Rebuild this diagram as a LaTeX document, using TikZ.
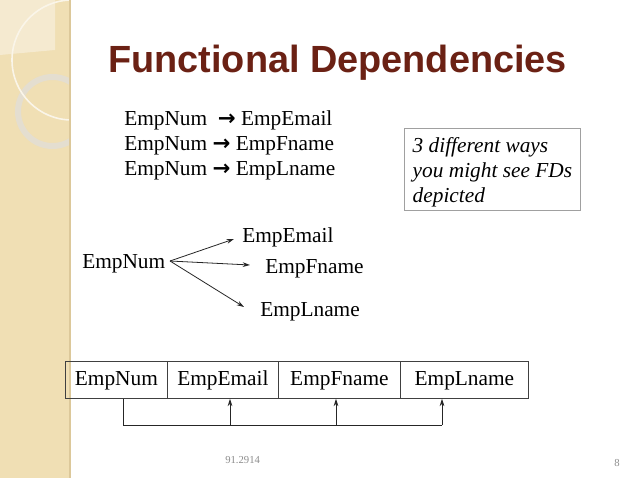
\documentclass[tikz,border=0pt]{standalone}
\usepackage{fontspec}
\setmainfont{Liberation Serif}
\newfontfamily\titlefont{Liberation Sans}
\newfontfamily\arrowfont{DejaVu Sans}
\usetikzlibrary{arrows.meta}
\definecolor{sidebar}{HTML}{F0DFB4}
\definecolor{sidelight}{HTML}{F5EAD0}
\definecolor{sideedge}{HTML}{DCC89A}
\definecolor{ringcol}{HTML}{E4DED0}
\definecolor{titlecol}{HTML}{6B2114}
\definecolor{boxgray}{HTML}{A0A0A0}
\tikzset{
  txt/.style={font=\fontsize{16}{18.75}\selectfont, inner sep=0pt},
  cell/.style={draw=black!75, line width=0.6pt, minimum height=27.75pt, inner sep=0pt,
     text height=12pt, text depth=3pt,
     font=\fontsize{16}{18.75}\selectfont, anchor=north west},
  conn/.style={line width=0.6pt, draw=black!85},
  tip/.style={-{Stealth[length=5.5pt,width=3.5pt]}},
  foot/.style={font=\fontsize{8}{9}\selectfont, text=black!45, inner sep=0pt}
}
\newcommand{\bigarrow}{{\arrowfont\bfseries →}}
\begin{document}
\begin{tikzpicture}[x=0.75pt,y=-0.75pt]
\useasboundingbox (0,0) rectangle (638,478);
% sidebar
\fill[white] (0,0) rectangle (638,478);
\fill[sidebar] (0,0) rectangle (70,478);
\fill[sidelight] (0,0) -- (55,0) -- (55,50) -- (0,55) -- cycle;
\begin{scope}
\clip (0,0) rectangle (70,478);
\draw[ringcol, line width=4.5pt] (52.5,111.5) circle (34.5);
\draw[white!70!sidebar, line width=1.2pt] (72,60) circle (60);
\end{scope}
\draw[sideedge, line width=0.9pt] (70,0) -- (70,478);
% title
\node[anchor=base west, inner sep=0pt, text=titlecol,
      font=\titlefont\bfseries\fontsize{28.4}{32}\selectfont] (title) at (108,72) {Functional Dependencies};
% FD lines
\node[txt, anchor=base west] (fd1) at (124,125) {EmpNum \ \bigarrow\ EmpEmail};
\node[txt, anchor=base west] (fd2) at (124,150) {EmpNum \bigarrow\ EmpFname};
\node[txt, anchor=base west] (fd3) at (124,175) {EmpNum \bigarrow\ EmpLname};
% note box
\node[draw=boxgray, line width=0.6pt, anchor=north west, minimum width=132pt, minimum height=61.5pt,
      inner xsep=4pt, inner ysep=0pt, align=left,
      font=\itshape\fontsize{16}{18.75}\selectfont] (note) at (404,128)
      {\rule{0pt}{15pt}3 different ways\\you might see FDs\\depicted};
% fan diagram
\node[txt, anchor=base west] (num) at (82,268) {EmpNum};
\node[txt, anchor=base west] (email) at (242,242) {EmpEmail};
\node[txt, anchor=base west] (fname) at (265,273) {EmpFname};
\node[txt, anchor=base west] (lname) at (260,316) {EmpLname};
\coordinate (src) at (170,261);
\coordinate (t1) at (234,239);
\coordinate (t2) at (250,265);
\coordinate (t3) at (244,307);
\draw[conn, tip] (src) -- (t1);
\draw[conn, tip] (src) -- (t2);
\draw[conn, tip] (src) -- (t3);
% table
\node[cell, minimum width=76.5pt] (c1) at (65,361) {EmpNum};
\node[cell, minimum width=83.25pt] (c2) at (167,361) {EmpEmail};
\node[cell, minimum width=91.5pt] (c3) at (278,361) {EmpFname};
\node[cell, minimum width=96pt] (c4) at (400,361) {EmpLname};
\coordinate (b1) at (123,425);
\coordinate (b2) at (230,425);
\coordinate (b3) at (336,425);
\coordinate (b4) at (442,425);
\draw[conn] (c1.south -| b1) -- (b1) -- (b4);
\draw[conn, tip] (b2) -- (c2.south -| b2);
\draw[conn, tip] (b3) -- (c3.south -| b3);
\draw[conn, tip] (b4) -- (c4.south -| b4);
% footer
\node[foot, anchor=base west] (date) at (225,463) {91.2914};
\node[foot, anchor=base] (page) at (617,466) {8};
\end{tikzpicture}
\end{document}
